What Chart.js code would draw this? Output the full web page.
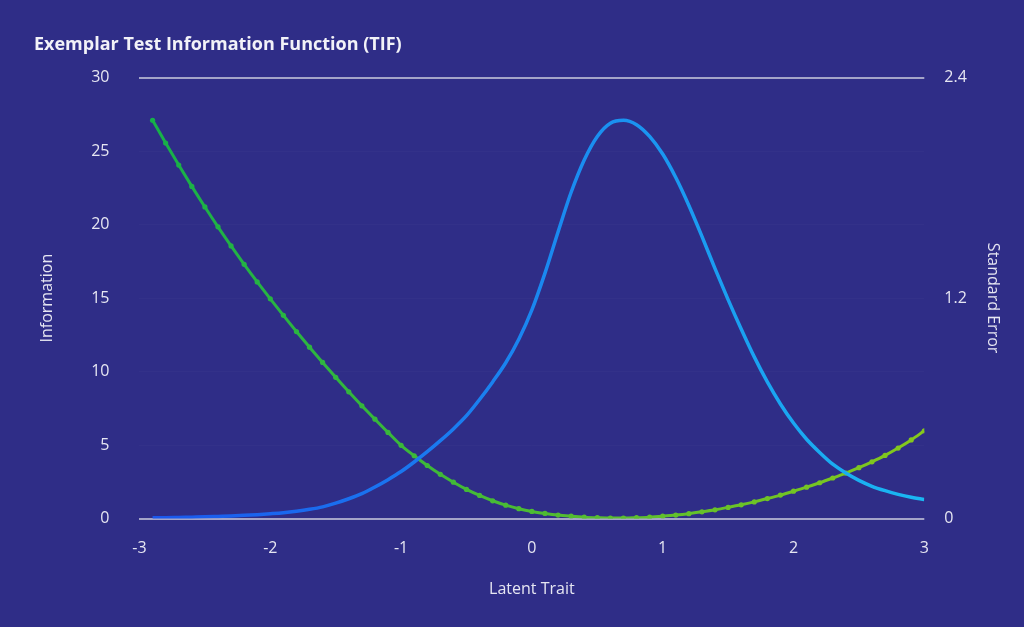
<!DOCTYPE html>
<html><head><meta charset="utf-8">
<script src="https://cdn.jsdelivr.net/npm/chart.js@4"></script>
<style>html,body{margin:0;background:#2f2d87;}#w{width:1024px;height:627px;position:relative}</style>
</head><body><div id="w"><canvas id="c"></canvas></div>
<script>
const xs = [-2.9,-2.8,-2.7,-2.6,-2.5,-2.4,-2.3,-2.2,-2.1,-2.0,-1.9,-1.8,-1.7,-1.6,-1.5,-1.4,-1.3,-1.2,-1.1,-1.0,-0.9,-0.8,-0.7,-0.6,-0.5,-0.4,-0.3,-0.2,-0.1,0,0.1,0.2,0.3,0.4,0.5,0.6,0.7,0.8,0.9,1.0,1.1,1.2,1.3,1.4,1.5,1.6,1.7,1.8,1.9,2.0,2.1,2.2,2.3,2.4,2.5,2.6,2.7,2.8,2.9,3.0];
const information = [.05,.06,.08,.1,.12,.15,.18,.22,.27,.33,.4,.5,.63,.8,1.05,1.35,1.7,2.15,2.65,3.2,3.85,4.55,5.3,6.1,7.0,8.1,9.3,10.6,12.2,14.2,16.7,19.5,22.2,24.4,26.0,26.9,27.1,26.8,26.0,24.8,23.2,21.3,19.2,17.0,14.9,12.9,11.0,9.3,7.8,6.5,5.4,4.5,3.7,3.1,2.6,2.2,1.9,1.65,1.45,1.3];
const standardError = [2.168,2.044,1.924,1.808,1.696,1.588,1.484,1.384,1.288,1.196,1.106,1.018,0.933,0.850,0.769,0.690,0.614,0.541,0.469,0.399,0.342,0.289,0.241,0.198,0.159,0.126,0.097,0.073,0.054,0.039,0.028,0.019,0.013,0.008,0.005,0.003,0.003,0.005,0.008,0.013,0.019,0.027,0.037,0.048,0.061,0.075,0.091,0.109,0.128,0.149,0.171,0.195,0.221,0.248,0.277,0.309,0.344,0.384,0.428,0.478];
const leftTicks = [0,5,10,15,20,25,30];
const rightTicks = [0,1.2,2.4];

function grad(ctx,c1,c2){
  const ch=ctx.chart, a=ch.chartArea; if(!a) return c1;
  const g=ch.ctx.createLinearGradient(a.left,0,a.right,0);
  g.addColorStop(0,c1); g.addColorStop(1,c2); return g;
}
const F='"Open Sans", Lato, sans-serif';
Chart.defaults.font.family=F;
Chart.defaults.color='#e6e6f2';
new Chart(document.getElementById('c'),{
  type:'line',
  data:{datasets:[
    {label:'Information',data:xs.map((x,i)=>({x,y:information[i]})),yAxisID:'y',
     borderColor:c=>grad(c,'#1a55ee','#1ab8f2'),borderWidth:3.5,pointRadius:0,cubicInterpolationMode:'monotone',fill:false},
    {label:'Standard Error',data:xs.map((x,i)=>({x,y:standardError[i]})),yAxisID:'y1',
     borderColor:c=>grad(c,'#14b04a','#86c81c'),pointBackgroundColor:c=>grad(c,'#14b04a','#86c81c'),
     pointBorderColor:'rgba(0,0,0,0)',
     borderWidth:3,pointRadius:2.6,pointBorderWidth:0,cubicInterpolationMode:'monotone',fill:false}
  ]},
  options:{responsive:true,maintainAspectRatio:false,animation:false,
    layout:{padding:{left:34,right:18,top:34,bottom:24}},
    plugins:{legend:{display:false},tooltip:{enabled:false},
      title:{display:true,text:'Exemplar Test Information Function (TIF)',align:'start',color:'#f2f2f8',
        font:{size:18,weight:'bold',family:F},padding:{top:0,bottom:22}}},
    scales:{
      x:{type:'linear',min:-3,max:3,
        ticks:{stepSize:1,color:'#e6e6f2',font:{size:16},padding:12},
        grid:{display:false},border:{display:false},
        title:{display:true,text:'Latent Trait',color:'#e6e6f2',font:{size:16},padding:{top:10}}},
      y:{position:'left',min:0,max:30,
        afterBuildTicks:a=>{a.ticks=leftTicks.map(v=>({value:v}));},
        ticks:{color:'#e6e6f2',font:{size:16},padding:30},
        grid:{drawTicks:false,lineWidth:c=>(c.tick.value===0||c.tick.value===30)?2:1,
          color:c=>(c.tick.value===0||c.tick.value===30)?'#a4a4c8':'rgba(255,255,255,0.025)'},
        border:{display:false},
        title:{display:true,text:'Information',color:'#e6e6f2',font:{size:16}}},
      y1:{position:'right',min:0,max:2.4,
        afterBuildTicks:a=>{a.ticks=rightTicks.map(v=>({value:v}));},
        ticks:{color:'#e6e6f2',font:{size:16},padding:12},
        grid:{display:false},border:{display:false},
        title:{display:true,text:'Standard Error',color:'#e6e6f2',font:{size:16}}}
    }}
});
</script></body></html>
